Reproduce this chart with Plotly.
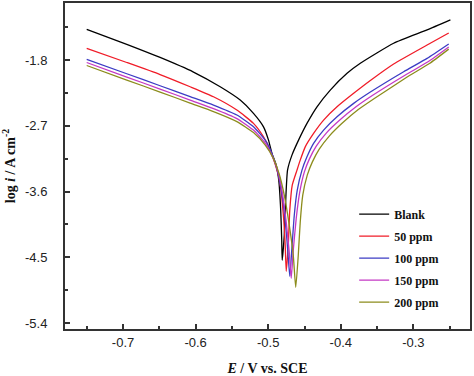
import plotly.graph_objects as go

# ---- data ----
series_names = ["Blank", "50 ppm", "100 ppm", "150 ppm", "200 ppm"]
series_colors = ["#000000", "#f01c28", "#3c3cc4", "#c438c4", "#8c8c1c"]

blank_E = [-0.7501, -0.6949, -0.6490, -0.6030, -0.5662, -0.5386, -0.5203, -0.5065, -0.4996, -0.4949,
           -0.4890, -0.4855, -0.4828, -0.4814, -0.4807,
           -0.4779, -0.4759, -0.4734, -0.4673, -0.4582, -0.4466, -0.4328, -0.4145, -0.3914, -0.3731,
           -0.3272, -0.2811, -0.2490]
blank_logi = [-1.380, -1.585, -1.765, -1.965, -2.166, -2.348, -2.530, -2.714, -2.896, -3.078,
              -3.238, -3.444, -3.855, -4.266, -4.540,
              -4.197, -3.718, -3.307, -3.101, -2.896, -2.667, -2.440, -2.211, -1.982, -1.845,
              -1.571, -1.389, -1.252]

ppm50_E = [-0.7501, -0.6949, -0.6490, -0.6076, -0.5754, -0.5432, -0.5203, -0.5065, -0.4972, -0.4880,
           -0.4834, -0.4786, -0.4766, -0.4752,
           -0.4724, -0.4703, -0.4669, -0.4604, -0.4559, -0.4490, -0.4375, -0.4237, -0.4052, -0.3823,
           -0.3593, -0.3272, -0.2811, -0.2513]
ppm50_logi = [-1.640, -1.834, -1.999, -2.166, -2.303, -2.485, -2.667, -2.851, -3.033, -3.307,
              -3.512, -3.992, -4.334, -4.690,
              -4.334, -3.855, -3.512, -3.307, -3.170, -2.988, -2.804, -2.622, -2.440, -2.256,
              -2.081, -1.855, -1.595, -1.430]

ppm100_E = [-0.7501, -0.6949, -0.6490, -0.6076, -0.5754, -0.5432, -0.5203, -0.5041, -0.4949, -0.4876,
            -0.4821, -0.4766, -0.4731, -0.4703,
            -0.4676, -0.4641, -0.4600, -0.4535, -0.4466, -0.4375, -0.4237, -0.4052, -0.3823, -0.3593,
            -0.3134, -0.2811, -0.2513]
ppm100_logi = [-1.790, -1.988, -2.152, -2.300, -2.416, -2.553, -2.714, -2.896, -3.078, -3.307,
               -3.581, -3.992, -4.403, -4.759,
               -4.403, -3.923, -3.581, -3.307, -3.125, -2.941, -2.759, -2.577, -2.393, -2.238,
               -1.960, -1.777, -1.580]

ppm150_E = [-0.7501, -0.6949, -0.6490, -0.6076, -0.5754, -0.5432, -0.5203, -0.5041, -0.4945, -0.4862,
            -0.4807, -0.4752, -0.4710, -0.4683,
            -0.4655, -0.4614, -0.4566, -0.4503, -0.4434, -0.4338, -0.4200, -0.4014, -0.3786, -0.3566,
            -0.3110, -0.2793, -0.2513]
ppm150_logi = [-1.834, -2.033, -2.197, -2.348, -2.464, -2.601, -2.759, -2.937, -3.115, -3.334,
               -3.608, -4.019, -4.430, -4.786,
               -4.403, -3.964, -3.608, -3.334, -3.156, -2.978, -2.800, -2.622, -2.437, -2.286,
               -2.005, -1.821, -1.622]

ppm200_E = [-0.7501, -0.6949, -0.6490, -0.6076, -0.5754, -0.5432, -0.5203, -0.5041, -0.4931, -0.4848,
            -0.4779, -0.4710, -0.4655, -0.4621,
            -0.4586, -0.4559, -0.4524, -0.4462, -0.4393, -0.4297, -0.4159, -0.3979, -0.3759, -0.3538,
            -0.3097, -0.2779, -0.2513]
ppm200_logi = [-1.875, -2.074, -2.238, -2.389, -2.505, -2.642, -2.793, -2.964, -3.142, -3.362,
               -3.649, -4.060, -4.471, -4.910,
               -4.471, -4.019, -3.649, -3.375, -3.197, -3.019, -2.841, -2.663, -2.478, -2.327,
               -2.040, -1.848, -1.651]

x_tickvals = [-0.7, -0.6, -0.5, -0.4, -0.3]
x_ticktext = ["-0.7", "-0.6", "-0.5", "-0.4", "-0.3"]
x_minorvals = [-0.75, -0.65, -0.55, -0.45, -0.35, -0.25]
y_tickvals = [-1.8, -2.7, -3.6, -4.5, -5.4]
y_ticktext = ["-1.8", "-2.7", "-3.6", "-4.5", "-5.4"]
y_minorvals = [-1.35, -2.25, -3.15, -4.05, -4.95]

all_E = [blank_E, ppm50_E, ppm100_E, ppm150_E, ppm200_E]
all_logi = [blank_logi, ppm50_logi, ppm100_logi, ppm150_logi, ppm200_logi]

fig = go.Figure()
for i, (name, col) in enumerate(zip(series_names, series_colors)):
    fig.add_trace(go.Scatter(
        x=all_E[i], y=all_logi[i], mode="lines", name=name,
        legendgroup=name,
        line=dict(color=col, width=1.3, shape="spline", smoothing=0.5),
    ))

tickfont = dict(family="Liberation Sans, Arial, sans-serif", size=13, color="#222")
titlefont = dict(family="Liberation Serif, Times New Roman, serif", size=14, color="#111")

fig.update_layout(
    width=474, height=376,
    margin=dict(l=65, r=4, t=3, b=47, autoexpand=False),
    paper_bgcolor="white", plot_bgcolor="white",
    showlegend=True,
    legend=dict(
        x=0.714, y=0.397, xanchor="left", yanchor="top",
        font=dict(family="Liberation Serif, Times New Roman, serif", size=12, color="#111", weight="bold"),
        bgcolor="rgba(0,0,0,0)", traceorder="grouped", tracegroupgap=3,
    ),
    xaxis=dict(
        range=[-0.78, -0.222], showgrid=False, zeroline=False,
        showline=True, mirror=True, linecolor="#333", linewidth=2,
        tickmode="array", tickvals=x_tickvals, ticktext=x_ticktext,
        ticks="inside", ticklen=5, tickwidth=1.5, tickcolor="#333",
        minor=dict(tickmode="array", tickvals=x_minorvals, ticks="inside", ticklen=3, tickcolor="#333"),
        tickfont=tickfont, ticklabelstandoff=0,
        title=dict(text="<b><i>E</i> / V vs. SCE</b>", font=titlefont, standoff=16),
    ),
    yaxis=dict(
        range=[-5.48, -1.02], showgrid=False, zeroline=False,
        showline=True, mirror=True, linecolor="#333", linewidth=2,
        tickmode="array", tickvals=y_tickvals, ticktext=y_ticktext,
        ticks="inside", ticklen=5, tickwidth=1.5, tickcolor="#333",
        minor=dict(tickmode="array", tickvals=y_minorvals, ticks="inside", ticklen=3, tickcolor="#333"),
        tickfont=tickfont, ticklabelstandoff=13,
        title=dict(text="<b>log <i>i</i> / A cm<sup>-2</sup></b>", font=titlefont, standoff=8),
    ),
)

fig.write_html("out.html", config={"displayModeBar": False},
               post_script="document.body.style.margin='0';")
